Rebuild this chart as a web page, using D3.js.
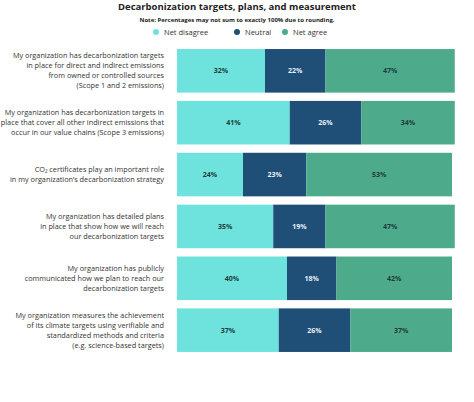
<!DOCTYPE html>
<html><head><meta charset="utf-8">
<script src="https://cdn.jsdelivr.net/npm/d3@7"></script>
<style>body{margin:0;background:#fff;font-family:"Open Sans",sans-serif}</style>
</head><body><div id="chart"></div>
<script>
const questions = [
  ["My organization has decarbonization targets", "in place for direct and indirect emissions", "from owned or controlled sources", "(Scope 1 and 2 emissions)"],
  ["My organization has decarbonization targets in", "place that cover all other indirect emissions that", "occur in our value chains (Scope 3 emissions)"],
  ["CO\u2082 certificates play an important role", "in my organization\u2019s decarbonization strategy"],
  ["My organization has detailed plans", "in place that show how we will reach", "our decarbonization targets"],
  ["My organization has publicly", "communicated how we plan to reach our", "decarbonization targets"],
  ["My organization measures the achievement", "of its climate targets using verifiable and", "standardized methods and criteria", "(e.g. science-based targets)"]
];
const series = ["Net disagree", "Neutral", "Net agree"];
const netDisagree = [32, 41, 24, 35, 40, 37];
const neutral = [22, 26, 23, 19, 18, 26];
const netAgree = [47, 34, 53, 47, 42, 37];
const colors = ["#6ee2dc", "#1f4e76", "#4dab8c"];
const textColors = ["#1d3b3a", "#e8f0f6", "#1d3b3a"];

const W = 474, H = 402;
const svg = d3.select("#chart").append("svg").attr("width", W).attr("height", H);

svg.append("text").attr("x", 237).attr("y", 10).attr("text-anchor", "middle")
  .attr("font-size", 9.5).attr("font-weight", 700).attr("fill", "#222")
  .text("Decarbonization targets, plans, and measurement");
svg.append("text").attr("x", 237).attr("y", 22).attr("text-anchor", "middle")
  .attr("font-size", 6).attr("font-weight", 700).attr("fill", "#222")
  .text("Note: Percentages may not sum to exactly 100% due to rounding.");

const legX = [156, 237, 285];
series.forEach((s, i) => {
  const g = svg.append("g").attr("transform", `translate(${legX[i]},32)`);
  g.append("circle").attr("r", 3).attr("fill", colors[i]);
  g.append("text").attr("x", 8).attr("y", 3).attr("font-size", 7.5).attr("fill", "#333").text(s);
});

const x = d3.scaleLinear().domain([0, 100]).range([177, 452]);
const y = d3.scaleBand().domain(d3.range(questions.length)).range([48, 353]).paddingInner(0.16).paddingOuter(0.02);

const stackData = questions.map((q, i) => ({ i, "Net disagree": netDisagree[i], "Neutral": neutral[i], "Net agree": netAgree[i] }));
const stacked = d3.stack().keys(series)(stackData);

stacked.forEach((layer, k) => {
  const g = svg.append("g");
  g.selectAll("rect").data(layer).enter().append("rect")
    .attr("x", d => x(d[0])).attr("width", d => x(d[1]) - x(d[0]))
    .attr("y", d => y(d.data.i)).attr("height", y.bandwidth())
    .attr("fill", colors[k]);
  g.selectAll("text").data(layer).enter().append("text")
    .attr("x", d => (x(d[0]) + x(d[1])) / 2).attr("y", d => y(d.data.i) + y.bandwidth() / 2 + 2.5)
    .attr("text-anchor", "middle").attr("font-size", 7).attr("font-weight", 700)
    .attr("fill", textColors[k]).text(d => (d[1] - d[0]) + "%");
});

questions.forEach((lines, i) => {
  const cy = y(i) + y.bandwidth() / 2;
  const lh = 10;
  const t = svg.append("text").attr("text-anchor", "end").attr("font-size", 7.3).attr("fill", "#333");
  lines.forEach((l, j) => {
    t.append("tspan").attr("x", 164).attr("y", cy + (j - (lines.length - 1) / 2) * lh + 2.5).text(l);
  });
});
</script></body></html>
